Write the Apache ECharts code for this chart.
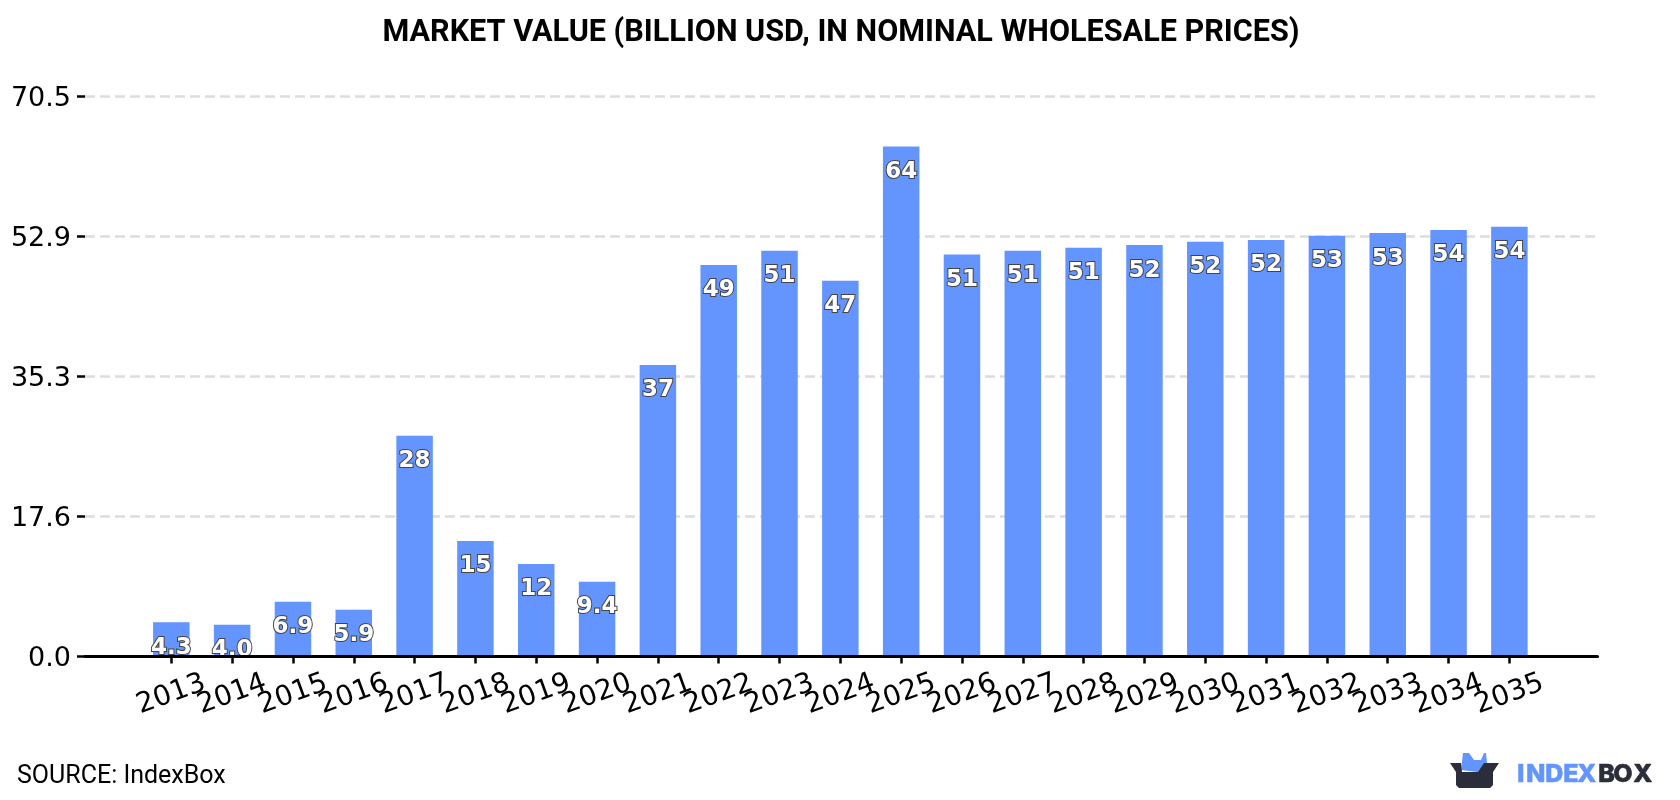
<!DOCTYPE html>
<html>
<head>
<meta charset="utf-8">
<style>html,body{margin:0;padding:0;background:#fff}#chart{width:1680px;height:800px}</style>
<script src="https://cdn.jsdelivr.net/npm/echarts@6/dist/echarts.min.js"></script>
</head>
<body>
<div id="chart"></div>
<script>
// Market value by year, actuals and forecast, in billion USD
const years = ['2013','2014','2015','2016','2017','2018','2019','2020','2021','2022','2023','2024','2025','2026','2027','2028','2029','2030','2031','2032','2033','2034','2035'];
const marketValue = [4.3,4.0,6.9,5.9,27.8,14.55,11.65,9.4,36.7,49.3,51.07,47.3,64.2,50.6,51.07,51.45,51.8,52.2,52.45,52.96,53.3,53.7,54.1];
const yTickStep = 17.625;
const yMax = 70.5;

const barBlue = '#6495ff';
const logoDark = '#2b2d3a';
const dejavu = '"DejaVu Sans"';

const chart = echarts.init(document.getElementById('chart'), null, {renderer: 'canvas'});

const plotTop = 96.5, plotHeight = 560;

// Wordmark letters are set one by one for their wide tracking
const wordmark = [
  ['I', 1517, barBlue], ['N', 1526, barBlue], ['D', 1545, barBlue], ['E', 1563, barBlue], ['X', 1577, barBlue],
  ['B', 1598, logoDark], ['O', 1613, logoDark], ['X', 1633, logoDark]
];

chart.setOption({
  animation: false,
  backgroundColor: '#fff',
  title: {
    text: 'MARKET VALUE (BILLION USD, IN NOMINAL WHOLESALE PRICES)',
    left: 836, top: 13, textAlign: 'center',
    textStyle: {fontFamily: 'Roboto', fontWeight: 'bold', fontSize: 30.6, color: '#000'}
  },
  grid: [
    // Frame carrying the value axis, the gridlines and the baseline
    {left: 85, width: 1512.5, top: plotTop, height: plotHeight},
    // Inner band holding the bars
    {left: 140.9, width: 1398.9, top: plotTop, height: plotHeight}
  ],
  xAxis: [
    {
      gridIndex: 0, type: 'value', min: 0, max: 1, z: 6,
      axisLine: {show: true, onZero: false, lineStyle: {color: '#000', width: 3}},
      axisTick: {show: false}, axisLabel: {show: false}, splitLine: {show: false}
    },
    {
      gridIndex: 1, type: 'category', data: years, z: 6,
      axisLine: {show: false},
      axisTick: {show: true, alignWithLabel: true, length: 7, lineStyle: {color: '#000', width: 2.5}},
      axisLabel: {
        interval: 0, rotate: 20, align: 'center', verticalAlign: 'middle', margin: 38,
        fontFamily: dejavu, fontSize: 28, color: '#000'
      },
      splitLine: {show: false}
    }
  ],
  yAxis: [
    {
      gridIndex: 0, type: 'value', min: 0, max: yMax, interval: yTickStep,
      axisLine: {show: false},
      axisTick: {show: true, length: 8, lineStyle: {color: '#000', width: 2.5}},
      axisLabel: {
        margin: 14, verticalAlign: 'top', lineHeight: 4, fontFamily: dejavu, fontSize: 27, color: '#000',
        formatter: v => v.toFixed(1)
      },
      splitLine: {show: true, lineStyle: {color: '#dddddd', width: 2.5, type: [10, 5]}}
    },
    {
      gridIndex: 1, type: 'value', min: 0, max: yMax, interval: yTickStep,
      axisLine: {show: false}, axisTick: {show: false}, axisLabel: {show: false}, splitLine: {show: false}
    }
  ],
  series: [{
    type: 'bar',
    xAxisIndex: 1, yAxisIndex: 1,
    data: marketValue,
    barWidth: 36.5,
    itemStyle: {color: barBlue},
    label: {
      show: true,
      position: 'insideTop',
      distance: 14,
      fontFamily: dejavu, fontWeight: 'bold', fontSize: 23,
      color: '#fff', textBorderColor: '#444', textBorderWidth: 2,
      formatter: p => p.value < 10 ? p.value.toFixed(1) : String(Math.round(p.value))
    }
  }],
  graphic: [
    {type: 'text', left: 17, top: 764, style: {text: 'SOURCE: IndexBox', fontFamily: 'Roboto', fontSize: 25, fill: '#000'}},
    // Logo: blue ears rising out of a dark box, then the wordmark
    {type: 'polygon', shape: {points: [[1461,770],[1463,753],[1469,753],[1474,760],[1481,760],[1484,753],[1486,753],[1487,763],[1479,772],[1477,772]]}, style: {fill: barBlue}},
    {type: 'polygon', shape: {points: [[1450,763],[1461,763],[1462,772],[1478,772],[1484,763],[1499,763],[1493,772],[1493,785],[1490,788],[1459,788],[1456,785],[1456,772]]}, style: {fill: logoDark}}
  ].concat(wordmark.map(([ch, x, colour]) => ({
    type: 'text', left: x, top: 762,
    style: {text: ch, fontFamily: 'Inter', fontWeight: 800, fontSize: 25, fill: colour, stroke: colour, lineWidth: 0.6}
  })))
});
</script>
</body>
</html>
